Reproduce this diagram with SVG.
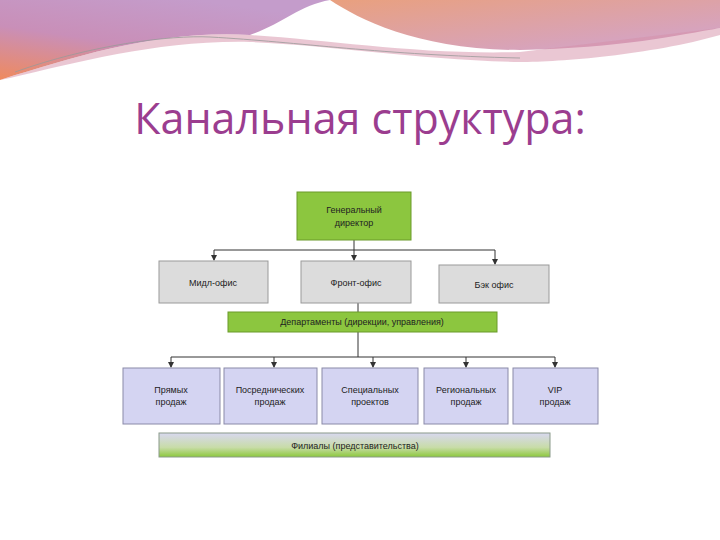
<svg xmlns="http://www.w3.org/2000/svg" width="720" height="540" viewBox="0 0 720 540">
<defs>
<linearGradient id="wl" x1="0" y1="1" x2="0.6" y2="0"><stop offset="0" stop-color="#ef8a5e"/><stop offset="0.5" stop-color="#c98fb8"/><stop offset="1" stop-color="#c49ccb"/></linearGradient>
<linearGradient id="wr" x1="0" y1="0" x2="1" y2="1"><stop offset="0" stop-color="#e9a07e"/><stop offset="1" stop-color="#d1a4d0"/></linearGradient>
<linearGradient id="fil" x1="0" y1="0" x2="0" y2="1"><stop offset="0" stop-color="#d8d8f0"/><stop offset="0.6" stop-color="#c8dca8"/><stop offset="1" stop-color="#8cc83c"/></linearGradient>
<marker id="a" markerWidth="6" markerHeight="6" refX="5" refY="3" orient="auto"><path d="M0,0L6,3L0,6z" fill="#333"/></marker>
</defs>
<style>
.g{fill:#8cc63f;stroke:#6a9a2a;stroke-width:1}
.gr{fill:#dcdcdc;stroke:#9a9a9a;stroke-width:1}
.b{fill:#d4d4f2;stroke:#8a8aa8;stroke-width:1}
.t{font-family:"Liberation Sans",Arial,sans-serif;font-size:9px;fill:#222;text-anchor:middle}
.c{stroke:#333;stroke-width:1;fill:none}
</style>
<rect width="720" height="540" fill="#fff"/>
<path d="M0,0H330C300,5 280,25 250,35C160,30 80,55 0,80Z" fill="url(#wl)"/>
<path d="M330,0C360,20 420,50 520,50C620,48 680,35 720,28V0Z" fill="url(#wr)"/>
<path d="M0,80C80,55 160,30 250,35C330,40 420,55 520,52L720,28V35C650,55 560,62 520,62C420,60 330,45 250,42C160,40 80,62 10,78Z" fill="#d690a8" opacity="0.5"/>
<path d="M15,72C90,45 170,35 210,37C300,42 380,55 520,58" stroke="#999" stroke-width="0.8" fill="none"/>
<text x="360" y="134" font-family="'Open Sans','Noto Sans',sans-serif" font-size="43" fill="#9b3d8f" text-anchor="middle">Канальная структура:</text>
<rect x="118" y="186" width="484" height="274" fill="#fff"/>
<g id="connectors">
<path class="c" d="M354,240V260" marker-end="url(#a)"/>
<path class="c" d="M214,250H495"/>
<path class="c" d="M214,250V260" marker-end="url(#a)"/>
<path class="c" d="M495,250V264" marker-end="url(#a)"/>
<path class="c" d="M358,303V312"/>
<path class="c" d="M358,332V357M171,357H555"/>
<path class="c" d="M171,357V367" marker-end="url(#a)"/>
<path class="c" d="M274,357V367" marker-end="url(#a)"/>
<path class="c" d="M373,357V367" marker-end="url(#a)"/>
<path class="c" d="M466,357V367" marker-end="url(#a)"/>
<path class="c" d="M555,357V367" marker-end="url(#a)"/>
</g>
<g id="gen"><rect class="g" x="297" y="192" width="114" height="48"/><text class="t" x="354" y="213">Генеральный</text><text class="t" x="354" y="226">директор</text></g>
<g id="mid"><rect class="gr" x="159" y="261" width="109" height="42"/><text class="t" x="213" y="286">Мидл-офис</text></g>
<g id="front"><rect class="gr" x="301" y="261" width="110" height="42"/><text class="t" x="356" y="286">Фронт-офис</text></g>
<g id="back"><rect class="gr" x="439" y="265" width="110" height="38"/><text class="t" x="494" y="288">Бэк офис</text></g>
<g id="dept"><rect class="g" x="228" y="312" width="269" height="20"/><text class="t" x="362" y="325">Департаменты (дирекции, управления)</text></g>
<g id="b1"><rect class="b" x="123" y="368" width="97" height="56"/><text class="t" x="171" y="393">Прямых</text><text class="t" x="171" y="405">продаж</text></g>
<g id="b2"><rect class="b" x="224" y="368" width="93" height="56"/><text class="t" x="270" y="393">Посреднических</text><text class="t" x="270" y="405">продаж</text></g>
<g id="b3"><rect class="b" x="322" y="368" width="96" height="56"/><text class="t" x="370" y="393">Специальных</text><text class="t" x="370" y="405">проектов</text></g>
<g id="b4"><rect class="b" x="424" y="368" width="84" height="56"/><text class="t" x="466" y="393">Региональных</text><text class="t" x="466" y="405">продаж</text></g>
<g id="b5"><rect class="b" x="513" y="368" width="85" height="56"/><text class="t" x="555" y="393">VIP</text><text class="t" x="555" y="405">продаж</text></g>
<g id="fil"><rect x="159" y="433" width="391" height="24" fill="url(#fil)" stroke="#8a9a8a"/><text class="t" x="355" y="449">Филиалы (представительства)</text></g>
</svg>
